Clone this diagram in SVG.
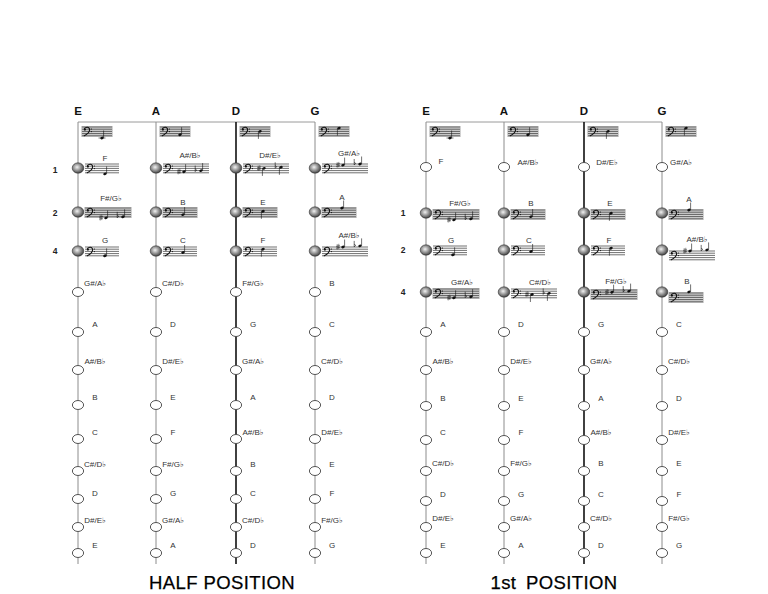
<svg xmlns="http://www.w3.org/2000/svg" xmlns:xlink="http://www.w3.org/1999/xlink" width="768" height="594" viewBox="0 0 768 594">
<style>
.str{stroke:#8c8c8c;stroke-width:1;fill:none}
.strD{stroke:#111;stroke-width:1.6;fill:none}
.topl{stroke:#9a9a9a;stroke-width:1;fill:none}
.hd{font-family:"Liberation Sans",Arial,sans-serif;font-weight:bold;font-size:11.5px;fill:#111;text-anchor:middle}
.fg{font-family:"Liberation Sans",Arial,sans-serif;font-weight:bold;font-size:8.5px;fill:#222;text-anchor:middle}
.nl{font-family:"Liberation Sans","DejaVu Sans",sans-serif;font-size:8px;fill:#333;text-anchor:middle}
.ttl{font-family:"Liberation Sans",Arial,sans-serif;font-size:18.5px;fill:#000;text-anchor:middle;letter-spacing:0.4px;stroke:#000;stroke-width:0.25}
.band{fill:#d2d2d2}
</style>
<defs>
<radialGradient id="rg" cx="0.42" cy="0.42" r="0.62">
<stop offset="0" stop-color="#f2f2f2"/>
<stop offset="0.55" stop-color="#8e8e8e"/>
<stop offset="1" stop-color="#3a3a3a"/>
</radialGradient>
<ellipse id="fd" rx="5.8" ry="5.2" fill="url(#rg)" stroke="#333" stroke-width="0.6"/>
<ellipse id="od" rx="5.6" ry="4.5" fill="#fff" stroke="#444" stroke-width="0.9"/>
<g id="clef" fill="#111">
<circle cx="2.9" cy="2.6" r="1.1"/>
<path d="M2.2,2.4 C2.8,-0.5 8,-0.5 7.6,3 C7.2,6 4.5,7.8 1.8,9" fill="none" stroke="#111" stroke-width="1.1"/>
<circle cx="9.4" cy="2" r="0.6"/>
<circle cx="9.4" cy="4.6" r="0.6"/>
</g>
<g id="s30"><path d="M0,0H30M0,2.2H30M0,4.4H30M0,6.6H30M0,8.8H30" stroke="#222" stroke-width="0.65"/><use href="#clef"/></g>
<g id="s34"><path d="M0,0H34M0,2.2H34M0,4.4H34M0,6.6H34M0,8.8H34" stroke="#222" stroke-width="0.65"/><use href="#clef"/></g>
<g id="s46"><path d="M0,0H46M0,2.2H46M0,4.4H46M0,6.6H46M0,8.8H46" stroke="#222" stroke-width="0.65"/><use href="#clef"/></g>
<g id="nu"><ellipse rx="1.8" ry="1.3" transform="rotate(-20)" fill="#111"/><path d="M1.6,-0.3V-7.5" stroke="#111" stroke-width="0.6"/></g>
<g id="nd"><ellipse rx="1.8" ry="1.3" transform="rotate(-20)" fill="#111"/><path d="M-1.6,0.3V7.5" stroke="#111" stroke-width="0.6"/></g>
<path id="sh" d="M-0.8,-2.8V2.6M0.8,-3.2V2.2M-1.8,-0.6L1.8,-1.4M-1.8,1.2L1.8,0.4" stroke="#111" stroke-width="0.5" fill="none"/>
<path id="fl" d="M-0.8,-5V1Q2.2,-1 -0.8,-1.6" stroke="#111" stroke-width="0.6" fill="none"/>
</defs>
<rect width="768" height="594" fill="#fff"/>

<g id="connectors">
<path class="topl" d="M78,122H315"/>
<path class="str" d="M78,122V564M156,122V564M315,122V564"/>
<path class="strD" d="M236,122V564"/>
<path class="topl" d="M426,122H662"/>
<path class="str" d="M426,122V564M504,122V564M662,122V564"/>
<path class="strD" d="M584,122V564"/>
</g>

<g id="half-labels">
<text class="hd" x="78" y="115">E</text>
<text class="hd" x="156" y="115">A</text>
<text class="hd" x="236" y="115">D</text>
<text class="hd" x="315" y="115">G</text>
<text class="fg" x="55" y="173">1</text>
<text class="fg" x="55" y="216">2</text>
<text class="fg" x="55" y="254">4</text>
<text class="ttl" x="222" y="589">HALF POSITION</text>
</g>
<g id="first-labels">
<text class="hd" x="426" y="115">E</text>
<text class="hd" x="504" y="115">A</text>
<text class="hd" x="584" y="115">D</text>
<text class="hd" x="662" y="115">G</text>
<text class="fg" x="403" y="216">1</text>
<text class="fg" x="403" y="253">2</text>
<text class="fg" x="403" y="295">4</text>
<text class="ttl" x="554" y="589" word-spacing="4">1st POSITION</text>
</g>

<!-- HALF POSITION: open string headers -->
<g id="h-open-E"><g transform="translate(82,127)"><rect class="band" x="-1" y="-1" width="32" height="11"/><use href="#s30"/><path d="M16.5,11H23.5" stroke="#222" stroke-width="0.6"/><use href="#nu" x="20" y="11"/></g></g>
<g id="h-open-A"><g transform="translate(160,127)"><rect class="band" x="-1" y="-1" width="32" height="11"/><use href="#s30"/><use href="#nu" x="20" y="7.7"/></g></g>
<g id="h-open-D"><g transform="translate(240,127)"><rect class="band" x="-1" y="-1" width="32" height="11"/><use href="#s30"/><use href="#nd" x="20" y="4.4"/></g></g>
<g id="h-open-G"><g transform="translate(319,127)"><rect class="band" x="-1" y="-1" width="32" height="11"/><use href="#s30"/><use href="#nd" x="20" y="1.1"/></g></g>

<!-- HALF: finger 1 -->
<g id="h-E-F"><use href="#fd" x="78" y="168"/><text class="nl" x="105" y="161">F</text><g transform="translate(85,164)"><use href="#s34"/><use href="#nu" x="20" y="9.9"/></g></g>
<g id="h-A-AsBb"><use href="#fd" x="156" y="168"/><text class="nl" x="190" y="158">A#/B♭</text><g transform="translate(163,164)"><use href="#s46"/><use href="#sh" x="16" y="7.7"/><use href="#nu" x="21" y="7.7"/><use href="#fl" x="33" y="6.6"/><use href="#nu" x="38" y="6.6"/></g></g>
<g id="h-D-DsEb"><use href="#fd" x="236" y="168"/><text class="nl" x="270" y="158">D#/E♭</text><g transform="translate(243,164)"><use href="#s46"/><use href="#sh" x="16" y="4.4"/><use href="#nd" x="21" y="4.4"/><use href="#fl" x="33" y="3.3"/><use href="#nd" x="38" y="3.3"/></g></g>
<g id="h-G-GsAb"><use href="#fd" x="315" y="168"/><text class="nl" x="349" y="156">G#/A♭</text><g transform="translate(322,164)"><use href="#s46"/><use href="#sh" x="16" y="1.1"/><use href="#nu" x="21" y="1.1"/><use href="#fl" x="33" y="0"/><use href="#nu" x="38" y="0"/></g></g>

<!-- HALF: finger 2 -->
<g id="h-E-FsGb"><use href="#fd" x="78" y="212"/><text class="nl" x="111" y="201">F#/G♭</text><g transform="translate(85,208)"><rect class="band" x="-1" y="-1" width="48" height="11"/><use href="#s46"/><use href="#sh" x="16" y="9.9"/><use href="#nu" x="21" y="9.9"/><use href="#fl" x="33" y="8.8"/><use href="#nu" x="38" y="8.8"/></g></g>
<g id="h-A-B"><use href="#fd" x="156" y="212"/><text class="nl" x="183" y="205">B</text><g transform="translate(163,208)"><rect class="band" x="-1" y="-1" width="36" height="11"/><use href="#s34"/><use href="#nu" x="20" y="6.6"/></g></g>
<g id="h-D-E"><use href="#fd" x="236" y="212"/><text class="nl" x="263" y="205">E</text><g transform="translate(243,208)"><rect class="band" x="-1" y="-1" width="36" height="11"/><use href="#s34"/><use href="#nd" x="20" y="3.3"/></g></g>
<g id="h-G-A"><use href="#fd" x="315" y="212"/><text class="nl" x="342" y="200">A</text><g transform="translate(322,208)"><rect class="band" x="-1" y="-1" width="36" height="11"/><use href="#s34"/><use href="#nu" x="20" y="0"/></g></g>

<!-- HALF: finger 4 -->
<g id="h-E-G"><use href="#fd" x="78" y="251"/><text class="nl" x="105" y="243">G</text><g transform="translate(85,247)"><use href="#s34"/><use href="#nu" x="20" y="8.8"/></g></g>
<g id="h-A-C"><use href="#fd" x="156" y="251"/><text class="nl" x="183" y="243">C</text><g transform="translate(163,247)"><use href="#s34"/><use href="#nu" x="20" y="5.5"/></g></g>
<g id="h-D-F"><use href="#fd" x="236" y="251"/><text class="nl" x="263" y="243">F</text><g transform="translate(243,247)"><use href="#s34"/><use href="#nd" x="20" y="2.2"/></g></g>
<g id="h-G-AsBb"><use href="#fd" x="315" y="251"/><text class="nl" x="349" y="238">A#/B♭</text><g transform="translate(322,247)"><use href="#s46"/><use href="#sh" x="16" y="0"/><use href="#nu" x="21" y="0"/><use href="#fl" x="33" y="-1.1"/><use href="#nu" x="38" y="-1.1"/></g></g>

<!-- HALF: open positions E string -->
<g id="h-E-1"><use href="#od" x="78" y="292"/><text class="nl" x="95" y="286">G#/A♭</text></g>
<g id="h-E-2"><use href="#od" x="78" y="332"/><text class="nl" x="95" y="327">A</text></g>
<g id="h-E-3"><use href="#od" x="78" y="370"/><text class="nl" x="95" y="364">A#/B♭</text></g>
<g id="h-E-4"><use href="#od" x="78" y="405"/><text class="nl" x="95" y="400">B</text></g>
<g id="h-E-5"><use href="#od" x="78" y="439"/><text class="nl" x="95" y="435">C</text></g>
<g id="h-E-6"><use href="#od" x="78" y="471"/><text class="nl" x="95" y="467">C#/D♭</text></g>
<g id="h-E-7"><use href="#od" x="78" y="499"/><text class="nl" x="95" y="496">D</text></g>
<g id="h-E-8"><use href="#od" x="78" y="527"/><text class="nl" x="95" y="523">D#/E♭</text></g>
<g id="h-E-9"><use href="#od" x="78" y="553"/><text class="nl" x="95" y="548">E</text></g>
<!-- A string -->
<g id="h-A-1"><use href="#od" x="156" y="292"/><text class="nl" x="173" y="286">C#/D♭</text></g>
<g id="h-A-2"><use href="#od" x="156" y="332"/><text class="nl" x="173" y="327">D</text></g>
<g id="h-A-3"><use href="#od" x="156" y="370"/><text class="nl" x="173" y="364">D#/E♭</text></g>
<g id="h-A-4"><use href="#od" x="156" y="405"/><text class="nl" x="173" y="400">E</text></g>
<g id="h-A-5"><use href="#od" x="156" y="439"/><text class="nl" x="173" y="435">F</text></g>
<g id="h-A-6"><use href="#od" x="156" y="471"/><text class="nl" x="173" y="467">F#/G♭</text></g>
<g id="h-A-7"><use href="#od" x="156" y="499"/><text class="nl" x="173" y="496">G</text></g>
<g id="h-A-8"><use href="#od" x="156" y="527"/><text class="nl" x="173" y="523">G#/A♭</text></g>
<g id="h-A-9"><use href="#od" x="156" y="553"/><text class="nl" x="173" y="548">A</text></g>
<!-- D string -->
<g id="h-D-1"><use href="#od" x="236" y="292"/><text class="nl" x="253" y="286">F#/G♭</text></g>
<g id="h-D-2"><use href="#od" x="236" y="332"/><text class="nl" x="253" y="327">G</text></g>
<g id="h-D-3"><use href="#od" x="236" y="370"/><text class="nl" x="253" y="364">G#/A♭</text></g>
<g id="h-D-4"><use href="#od" x="236" y="405"/><text class="nl" x="253" y="400">A</text></g>
<g id="h-D-5"><use href="#od" x="236" y="439"/><text class="nl" x="253" y="435">A#/B♭</text></g>
<g id="h-D-6"><use href="#od" x="236" y="471"/><text class="nl" x="253" y="467">B</text></g>
<g id="h-D-7"><use href="#od" x="236" y="499"/><text class="nl" x="253" y="496">C</text></g>
<g id="h-D-8"><use href="#od" x="236" y="527"/><text class="nl" x="253" y="523">C#/D♭</text></g>
<g id="h-D-9"><use href="#od" x="236" y="553"/><text class="nl" x="253" y="548">D</text></g>
<!-- G string -->
<g id="h-G-1"><use href="#od" x="315" y="292"/><text class="nl" x="332" y="286">B</text></g>
<g id="h-G-2"><use href="#od" x="315" y="332"/><text class="nl" x="332" y="327">C</text></g>
<g id="h-G-3"><use href="#od" x="315" y="370"/><text class="nl" x="332" y="364">C#/D♭</text></g>
<g id="h-G-4"><use href="#od" x="315" y="405"/><text class="nl" x="332" y="400">D</text></g>
<g id="h-G-5"><use href="#od" x="315" y="439"/><text class="nl" x="332" y="435">D#/E♭</text></g>
<g id="h-G-6"><use href="#od" x="315" y="471"/><text class="nl" x="332" y="467">E</text></g>
<g id="h-G-7"><use href="#od" x="315" y="499"/><text class="nl" x="332" y="496">F</text></g>
<g id="h-G-8"><use href="#od" x="315" y="527"/><text class="nl" x="332" y="523">F#/G♭</text></g>
<g id="h-G-9"><use href="#od" x="315" y="553"/><text class="nl" x="332" y="548">G</text></g>

<!-- 1st POSITION: open string headers -->
<g id="f-open-E"><g transform="translate(430,127)"><rect class="band" x="-1" y="-1" width="32" height="11"/><use href="#s30"/><path d="M16.5,11H23.5" stroke="#222" stroke-width="0.6"/><use href="#nu" x="20" y="11"/></g></g>
<g id="f-open-A"><g transform="translate(508,127)"><rect class="band" x="-1" y="-1" width="32" height="11"/><use href="#s30"/><use href="#nu" x="20" y="7.7"/></g></g>
<g id="f-open-D"><g transform="translate(588,127)"><rect class="band" x="-1" y="-1" width="32" height="11"/><use href="#s30"/><use href="#nd" x="20" y="4.4"/></g></g>
<g id="f-open-G"><g transform="translate(666,127)"><rect class="band" x="-1" y="-1" width="32" height="11"/><use href="#s30"/><use href="#nd" x="20" y="1.1"/></g></g>

<!-- 1st: top open row -->
<g id="f-E-F"><use href="#od" x="426" y="167"/><text class="nl" x="441" y="164">F</text></g>
<g id="f-A-AsBb"><use href="#od" x="504" y="167"/><text class="nl" x="528" y="165">A#/B♭</text></g>
<g id="f-D-DsEb"><use href="#od" x="584" y="167"/><text class="nl" x="607" y="165">D#/E♭</text></g>
<g id="f-G-GsAb"><use href="#od" x="662" y="167"/><text class="nl" x="681" y="165">G#/A♭</text></g>

<!-- 1st: finger 1 -->
<g id="f-E-FsGb"><use href="#fd" x="426" y="213"/><text class="nl" x="460" y="206">F#/G♭</text><g transform="translate(433,210)"><rect class="band" x="-1" y="-1" width="48" height="11"/><use href="#s46"/><use href="#sh" x="16" y="9.9"/><use href="#nu" x="21" y="9.9"/><use href="#fl" x="33" y="8.8"/><use href="#nu" x="38" y="8.8"/></g></g>
<g id="f-A-B"><use href="#fd" x="504" y="213"/><text class="nl" x="531" y="206">B</text><g transform="translate(511,210)"><rect class="band" x="-1" y="-1" width="36" height="11"/><use href="#s34"/><use href="#nu" x="20" y="6.6"/></g></g>
<g id="f-D-E"><use href="#fd" x="584" y="213"/><text class="nl" x="610" y="206">E</text><g transform="translate(591,210)"><rect class="band" x="-1" y="-1" width="36" height="11"/><use href="#s34"/><use href="#nd" x="20" y="3.3"/></g></g>
<g id="f-G-A"><use href="#fd" x="662" y="213"/><text class="nl" x="689" y="202">A</text><g transform="translate(669,210)"><rect class="band" x="-1" y="-1" width="36" height="11"/><use href="#s34"/><use href="#nu" x="20" y="0"/></g></g>

<!-- 1st: finger 2 -->
<g id="f-E-G"><use href="#fd" x="426" y="250"/><text class="nl" x="451" y="243">G</text><g transform="translate(433,246)"><use href="#s34"/><use href="#nu" x="20" y="8.8"/></g></g>
<g id="f-A-C"><use href="#fd" x="504" y="250"/><text class="nl" x="529" y="243">C</text><g transform="translate(511,246)"><use href="#s34"/><use href="#nu" x="20" y="5.5"/></g></g>
<g id="f-D-F"><use href="#fd" x="584" y="250"/><text class="nl" x="609" y="243">F</text><g transform="translate(591,246)"><use href="#s34"/><use href="#nd" x="20" y="2.2"/></g></g>
<g id="f-G-AsBb"><use href="#fd" x="662" y="250"/><text class="nl" x="697" y="242">A#/B♭</text><g transform="translate(669,251)"><use href="#s46"/><use href="#sh" x="16" y="0"/><use href="#nu" x="21" y="0"/><use href="#fl" x="33" y="-1.1"/><use href="#nu" x="38" y="-1.1"/></g></g>

<!-- 1st: finger 4 -->
<g id="f-E-GsAb"><use href="#fd" x="426" y="292"/><text class="nl" x="462" y="285">G#/A♭</text><g transform="translate(433,289)"><rect class="band" x="-1" y="-1" width="48" height="11"/><use href="#s46"/><use href="#sh" x="16" y="8.8"/><use href="#nu" x="21" y="8.8"/><use href="#fl" x="33" y="7.7"/><use href="#nu" x="38" y="7.7"/></g></g>
<g id="f-A-CsDb"><use href="#fd" x="504" y="292"/><text class="nl" x="540" y="285">C#/D♭</text><g transform="translate(511,289)"><use href="#s46"/><use href="#sh" x="16" y="5.5"/><use href="#nd" x="21" y="5.5"/><use href="#fl" x="33" y="4.4"/><use href="#nd" x="38" y="4.4"/></g></g>
<g id="f-D-FsGb"><use href="#fd" x="584" y="292"/><text class="nl" x="616" y="284">F#/G♭</text><g transform="translate(591,290)"><rect class="band" x="-1" y="-1" width="48" height="11"/><use href="#s46"/><use href="#sh" x="16" y="2.2"/><use href="#nu" x="21" y="2.2"/><use href="#fl" x="33" y="1.1"/><use href="#nu" x="38" y="1.1"/></g></g>
<g id="f-G-B"><use href="#fd" x="662" y="292"/><text class="nl" x="687" y="284">B</text><g transform="translate(669,293)"><rect class="band" x="-1" y="-1" width="36" height="11"/><use href="#s34"/><use href="#nu" x="20" y="-1.1"/></g></g>

<!-- 1st: open positions E string -->
<g id="f-E-1"><use href="#od" x="426" y="332"/><text class="nl" x="443" y="327">A</text></g>
<g id="f-E-2"><use href="#od" x="426" y="370"/><text class="nl" x="443" y="364">A#/B♭</text></g>
<g id="f-E-3"><use href="#od" x="426" y="406"/><text class="nl" x="443" y="401">B</text></g>
<g id="f-E-4"><use href="#od" x="426" y="440"/><text class="nl" x="443" y="435">C</text></g>
<g id="f-E-5"><use href="#od" x="426" y="471"/><text class="nl" x="443" y="466">C#/D♭</text></g>
<g id="f-E-6"><use href="#od" x="426" y="501"/><text class="nl" x="443" y="497">D</text></g>
<g id="f-E-7"><use href="#od" x="426" y="527"/><text class="nl" x="443" y="521">D#/E♭</text></g>
<g id="f-E-8"><use href="#od" x="426" y="553"/><text class="nl" x="443" y="548">E</text></g>
<!-- A string -->
<g id="f-A-1"><use href="#od" x="504" y="332"/><text class="nl" x="521" y="327">D</text></g>
<g id="f-A-2"><use href="#od" x="504" y="370"/><text class="nl" x="521" y="364">D#/E♭</text></g>
<g id="f-A-3"><use href="#od" x="504" y="406"/><text class="nl" x="521" y="401">E</text></g>
<g id="f-A-4"><use href="#od" x="504" y="440"/><text class="nl" x="521" y="435">F</text></g>
<g id="f-A-5"><use href="#od" x="504" y="471"/><text class="nl" x="521" y="466">F#/G♭</text></g>
<g id="f-A-6"><use href="#od" x="504" y="501"/><text class="nl" x="521" y="497">G</text></g>
<g id="f-A-7"><use href="#od" x="504" y="527"/><text class="nl" x="521" y="521">G#/A♭</text></g>
<g id="f-A-8"><use href="#od" x="504" y="553"/><text class="nl" x="521" y="548">A</text></g>
<!-- D string -->
<g id="f-D-1"><use href="#od" x="584" y="332"/><text class="nl" x="601" y="327">G</text></g>
<g id="f-D-2"><use href="#od" x="584" y="370"/><text class="nl" x="601" y="364">G#/A♭</text></g>
<g id="f-D-3"><use href="#od" x="584" y="406"/><text class="nl" x="601" y="401">A</text></g>
<g id="f-D-4"><use href="#od" x="584" y="440"/><text class="nl" x="601" y="435">A#/B♭</text></g>
<g id="f-D-5"><use href="#od" x="584" y="471"/><text class="nl" x="601" y="466">B</text></g>
<g id="f-D-6"><use href="#od" x="584" y="501"/><text class="nl" x="601" y="497">C</text></g>
<g id="f-D-7"><use href="#od" x="584" y="527"/><text class="nl" x="601" y="521">C#/D♭</text></g>
<g id="f-D-8"><use href="#od" x="584" y="553"/><text class="nl" x="601" y="548">D</text></g>
<!-- G string -->
<g id="f-G-1"><use href="#od" x="662" y="332"/><text class="nl" x="679" y="327">C</text></g>
<g id="f-G-2"><use href="#od" x="662" y="370"/><text class="nl" x="679" y="364">C#/D♭</text></g>
<g id="f-G-3"><use href="#od" x="662" y="406"/><text class="nl" x="679" y="401">D</text></g>
<g id="f-G-4"><use href="#od" x="662" y="440"/><text class="nl" x="679" y="435">D#/E♭</text></g>
<g id="f-G-5"><use href="#od" x="662" y="471"/><text class="nl" x="679" y="466">E</text></g>
<g id="f-G-6"><use href="#od" x="662" y="501"/><text class="nl" x="679" y="497">F</text></g>
<g id="f-G-7"><use href="#od" x="662" y="527"/><text class="nl" x="679" y="521">F#/G♭</text></g>
<g id="f-G-8"><use href="#od" x="662" y="553"/><text class="nl" x="679" y="548">G</text></g>
</svg>
